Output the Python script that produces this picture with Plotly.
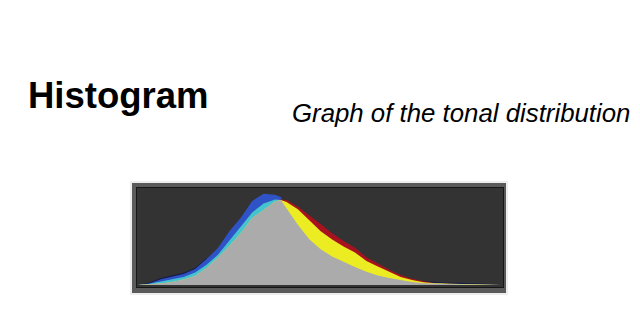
import plotly.graph_objects as go

W, H = 640, 333

# Tonal levels (0-255) and per-layer histogram heights (percent of plot height)
levels = [0, 8, 16, 24, 32, 40, 48, 56, 64, 72, 80, 88, 96, 100, 104, 112, 120, 128,
          136, 144, 152, 160, 168, 176, 184, 192, 200, 208, 216, 224, 232, 240, 248, 255]

gray_vals = [0, 0.5, 1.6, 3.0, 5.7, 9.4, 17.7, 28.6, 40.6, 54.0, 69.8, 78.0, 87.0, 88.5,
             79.7, 62.7, 47.6, 37.2, 29.7, 24.0, 18.8, 13.9, 10.0, 7.2, 5.2, 3.0, 1.8,
             1.3, 0.9, 0.7, 0.6, 0.5, 0.3, 0]

blue_vals = [0, 1.6, 6.0, 8.9, 11.5, 16.7, 27.0, 38.5, 56.0, 70.0, 87.5, 95.0, 94.0, 91.7,
             79.7, 62.7, 47.6, 37.2, 29.7, 24.0, 18.8, 13.9, 10.0, 7.2, 5.2, 3.0, 1.8,
             1.3, 0.9, 0.7, 0.6, 0.5, 0.3, 0]

cyan_vals = [0, 1.2, 3.6, 5.7, 8.3, 13.0, 21.0, 31.5, 46.0, 60.5, 75.5, 85.0, 89.0, 88.5,
             79.7, 62.7, 47.6, 37.2, 29.7, 24.0, 18.8, 13.9, 10.0, 7.2, 5.2, 3.0, 1.8,
             1.3, 0.9, 0.7, 0.6, 0.5, 0.3, 0]

red_vals = [0, 0.5, 1.6, 3.0, 5.7, 9.4, 17.7, 28.6, 40.6, 54.0, 69.8, 78.0, 87.0, 89.0,
            88.5, 81.5, 72.8, 63.5, 54.0, 45.8, 38.8, 28.8, 22.5, 16.0, 10.5, 6.5, 3.8,
            2.0, 1.3, 1.0, 0.8, 0.6, 0.4, 0]

yellow_vals = [0, 0.5, 1.6, 3.0, 5.7, 9.4, 17.7, 28.6, 40.6, 54.0, 69.8, 78.0, 87.0, 88.5,
               86.5, 79.0, 67.7, 56.0, 47.4, 40.0, 33.9, 25.0, 19.3, 13.5, 8.3, 5.2, 2.8,
               1.9, 1.25, 0.8, 0.7, 0.6, 0.4, 0]

edge_vals = [0, 2.5, 7.2, 10.0, 12.7, 17.8, 28.0, 0, 0, 0, 0, 0, 0, 0,
             0, 0, 0, 0, 0, 0, 0, 0, 0, 0, 0, 0, 3.8,
             3.0, 2.6, 2.3, 2.0, 1.7, 1.1, 0]

layers = [
    ("edge", edge_vals, "#151c4c"),
    ("blue", blue_vals, "#2f52c6"),
    ("red", red_vals, "#a8121e"),
    ("cyan", cyan_vals, "#45c4cf"),
    ("yellow", yellow_vals, "#ecec22"),
    ("gray", gray_vals, "#ababab"),
]

fig = go.Figure()
for name, vals, col in layers:
    fig.add_trace(go.Scatter(
        x=levels, y=vals, name=name, mode="lines", fill="tozeroy",
        fillcolor=col, line=dict(width=0, color=col), hoverinfo="skip",
        showlegend=False,
    ))


def px(x):
    return x / W


def py(y):
    return 1 - y / H


def rect(x0, y0, x1, y1, color):
    return dict(type="rect", xref="paper", yref="paper", layer="below",
                x0=px(x0), x1=px(x1), y0=py(y1), y1=py(y0),
                fillcolor=color, line=dict(width=0))


shapes = [
    rect(130, 181, 508, 295, "#ededed"),
    rect(132, 183, 506, 293, "#5a5a5a"),
    rect(136, 187, 504, 288, "#161616"),
    rect(137, 188, 503, 287, "#333333"),
]

fig.update_layout(
    width=W, height=H,
    margin=dict(l=0, r=0, t=0, b=0),
    paper_bgcolor="white", plot_bgcolor="rgba(0,0,0,0)",
    xaxis=dict(domain=[px(138), px(502)], range=[0, 255], visible=False, fixedrange=True),
    yaxis=dict(domain=[py(285), py(189)], range=[0, 100], visible=False, fixedrange=True),
    shapes=shapes,
    annotations=[
        dict(text="<b>Histogram</b>", xref="paper", yref="paper",
             x=px(25.5), y=py(96), xanchor="left", yanchor="middle", showarrow=False,
             font=dict(family="Liberation Sans, Arial, sans-serif", size=36.5, color="#000000")),
        dict(text="<i>Graph of the tonal distribution</i>", xref="paper", yref="paper",
             x=px(290), y=py(113.5), xanchor="left", yanchor="middle", showarrow=False,
             font=dict(family="Liberation Sans, Arial, sans-serif", size=25.8, color="#000000")),
    ],
)

fig.write_html("out.html", config={"displayModeBar": False})
